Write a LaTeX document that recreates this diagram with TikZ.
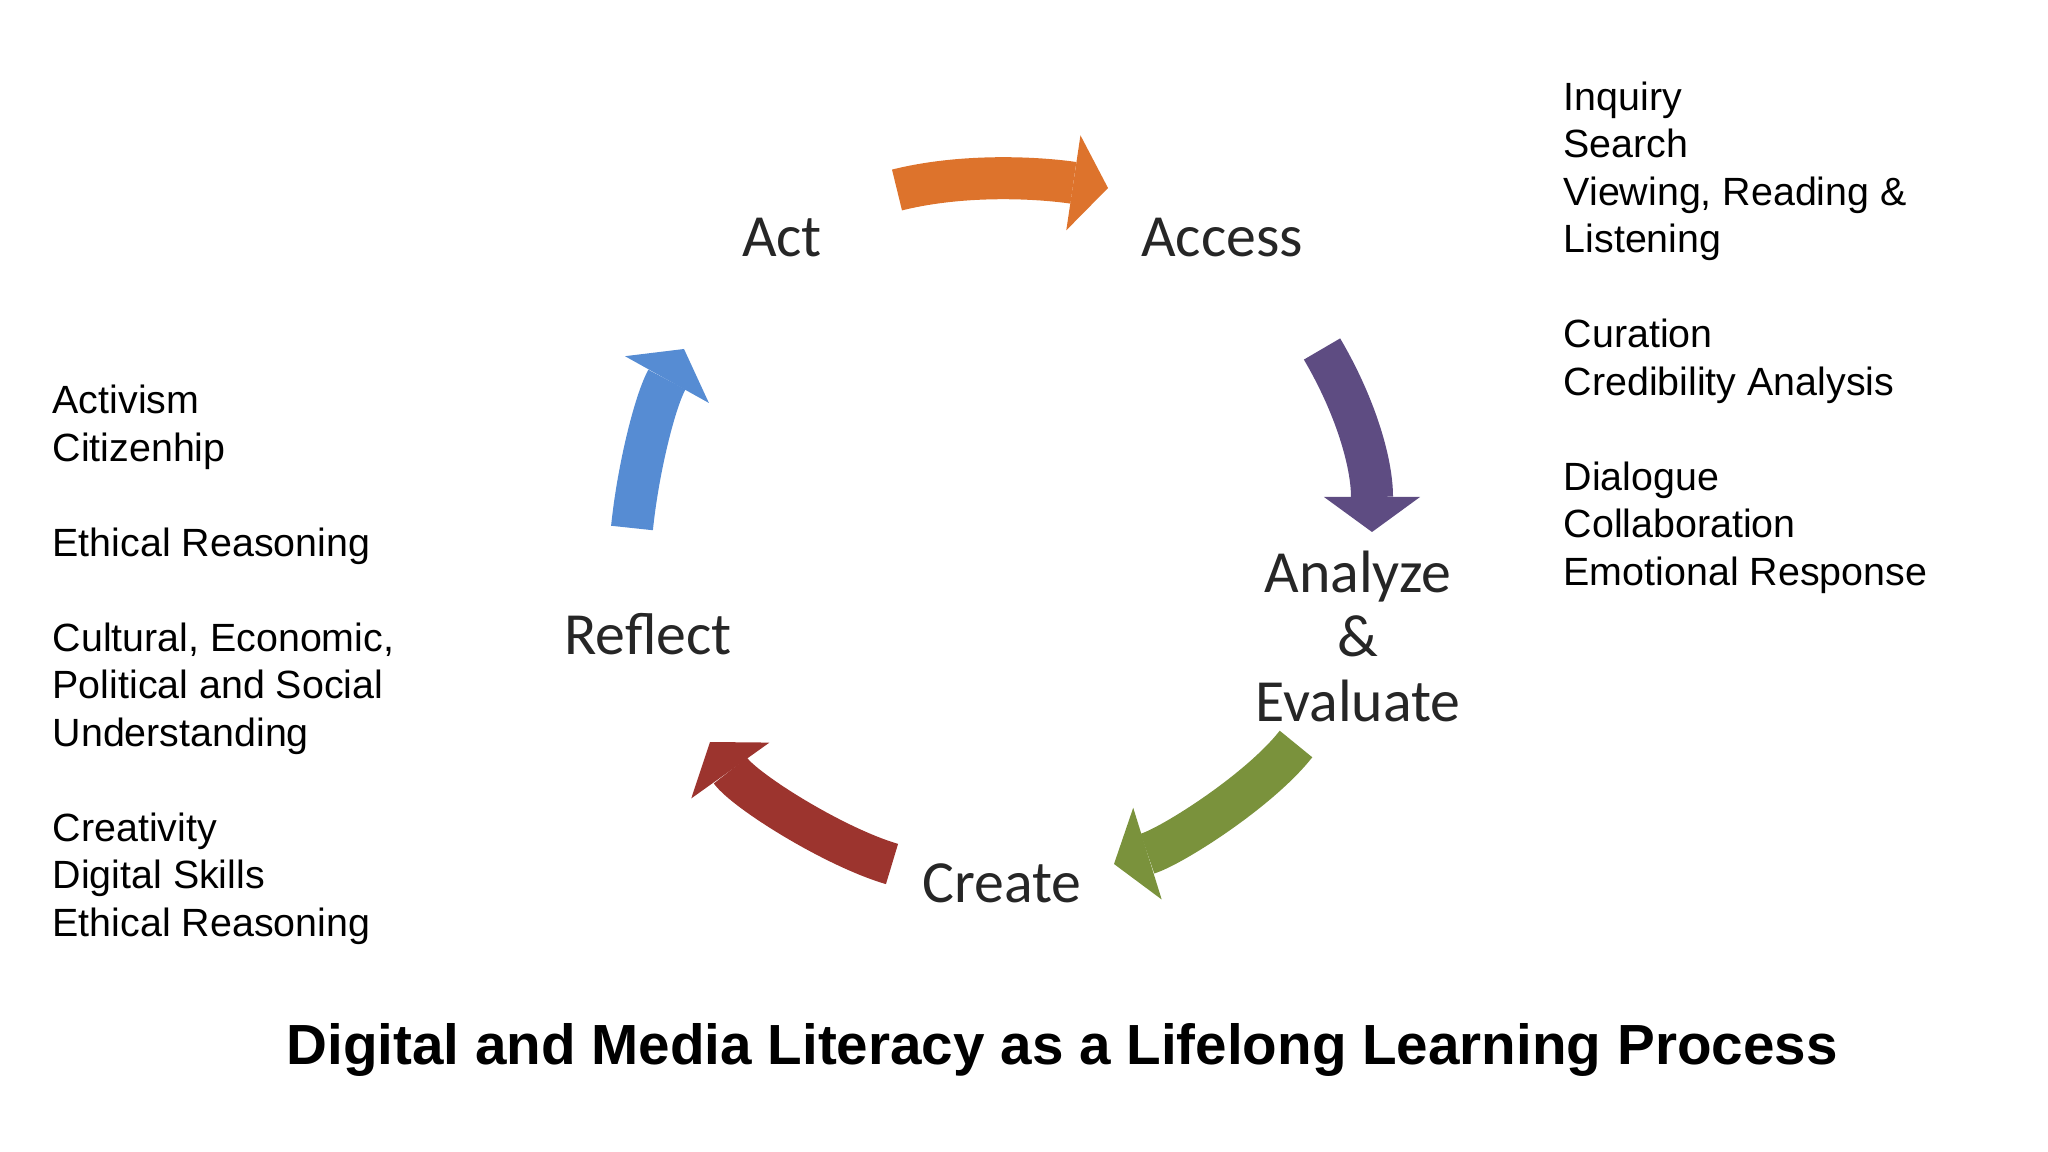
\documentclass[tikz,border=0pt]{standalone}
\usepackage{fontspec}
\setmainfont{Liberation Sans}
\newfontfamily\stagefont{Carlito}
\usetikzlibrary{arrows.meta}

\definecolor{actorange}{RGB}{221,115,44}
\definecolor{accesspurple}{RGB}{94,76,130}
\definecolor{analyzegreen}{RGB}{122,146,60}
\definecolor{createred}{RGB}{156,52,46}
\definecolor{reflectblue}{RGB}{86,140,211}
\definecolor{stagegray}{RGB}{38,38,38}

\begin{document}
\begin{tikzpicture}[x=0.01cm, y=-0.01cm,
    stage/.style={font=\stagefont\fontsize{17}{18.3}\selectfont, text=stagegray, inner sep=0pt, align=center, anchor=base},
    notes/.style={font=\fontsize{11.2}{13.5}\selectfont, align=left, inner sep=0pt, anchor=base west},
    cyclearrow/.style={line width=0.42cm, -{Triangle[length=0.35cm, width=0.96cm, line width=0pt]}}]
    \useasboundingbox (0,0) rectangle (2048,1152);

    % stages of the cycle (base = last line)
    \node[stage] (act) at (782,257) {Act};
    \node[stage] (access) at (1222,257) {Access};
    \node[stage] (analyze) at (1358,721) {Analyze\\\&\\Evaluate};
    \node[stage] (create) at (1002,902) {Create};
    \node[stage] (reflect) at (648,655) {Reflect};

    % arrow ends
    \coordinate (act-tail) at (897,190);
    \coordinate (access-tip) at (1108,188);
    \coordinate (access-tail) at (1322,349);
    \coordinate (analyze-tip) at (1372,532);
    \coordinate (analyze-tail) at (1296,744);
    \coordinate (create-tip) at (1114,864);
    \coordinate (create-tail) at (892,864);
    \coordinate (reflect-tip) at (710,742);
    \coordinate (reflect-tail) at (632,528);
    \coordinate (act-tip) at (684,349);

    % curved arrows
    \draw[cyclearrow, actorange] (act-tail) .. controls (965,173) and (1041,178) .. (access-tip);
    \draw[cyclearrow, accesspurple] (access-tail) .. controls (1355,405) and (1372,462) .. (analyze-tip);
    \draw[cyclearrow, analyzegreen] (analyze-tail) .. controls (1259,791) and (1172,846) .. (create-tip);
    \draw[cyclearrow, createred] (create-tail) .. controls (834,847) and (745,791) .. (reflect-tip);
    \draw[cyclearrow, reflectblue] (reflect-tail) .. controls (638,469) and (655,401) .. (act-tip);

    % side notes
    \node[notes] (access-notes) at (1563,585) {Inquiry\\Search\\Viewing, Reading \&\\Listening\\[13.5pt]
        Curation\\Credibility Analysis\\[13.5pt]Dialogue\\Collaboration\\Emotional Response};
    \node[notes] (act-notes) at (52,936) {Activism\\Citizenhip\\[13.5pt]Ethical Reasoning\\[13.5pt]
        Cultural, Economic,\\Political and Social\\Understanding\\[13.5pt]Creativity\\Digital Skills\\Ethical Reasoning};

    \node[font=\bfseries\fontsize{16.1}{19}\selectfont, anchor=base] (title) at (1062,1064)
        {Digital and Media Literacy as a Lifelong Learning Process};
\end{tikzpicture}
\end{document}
